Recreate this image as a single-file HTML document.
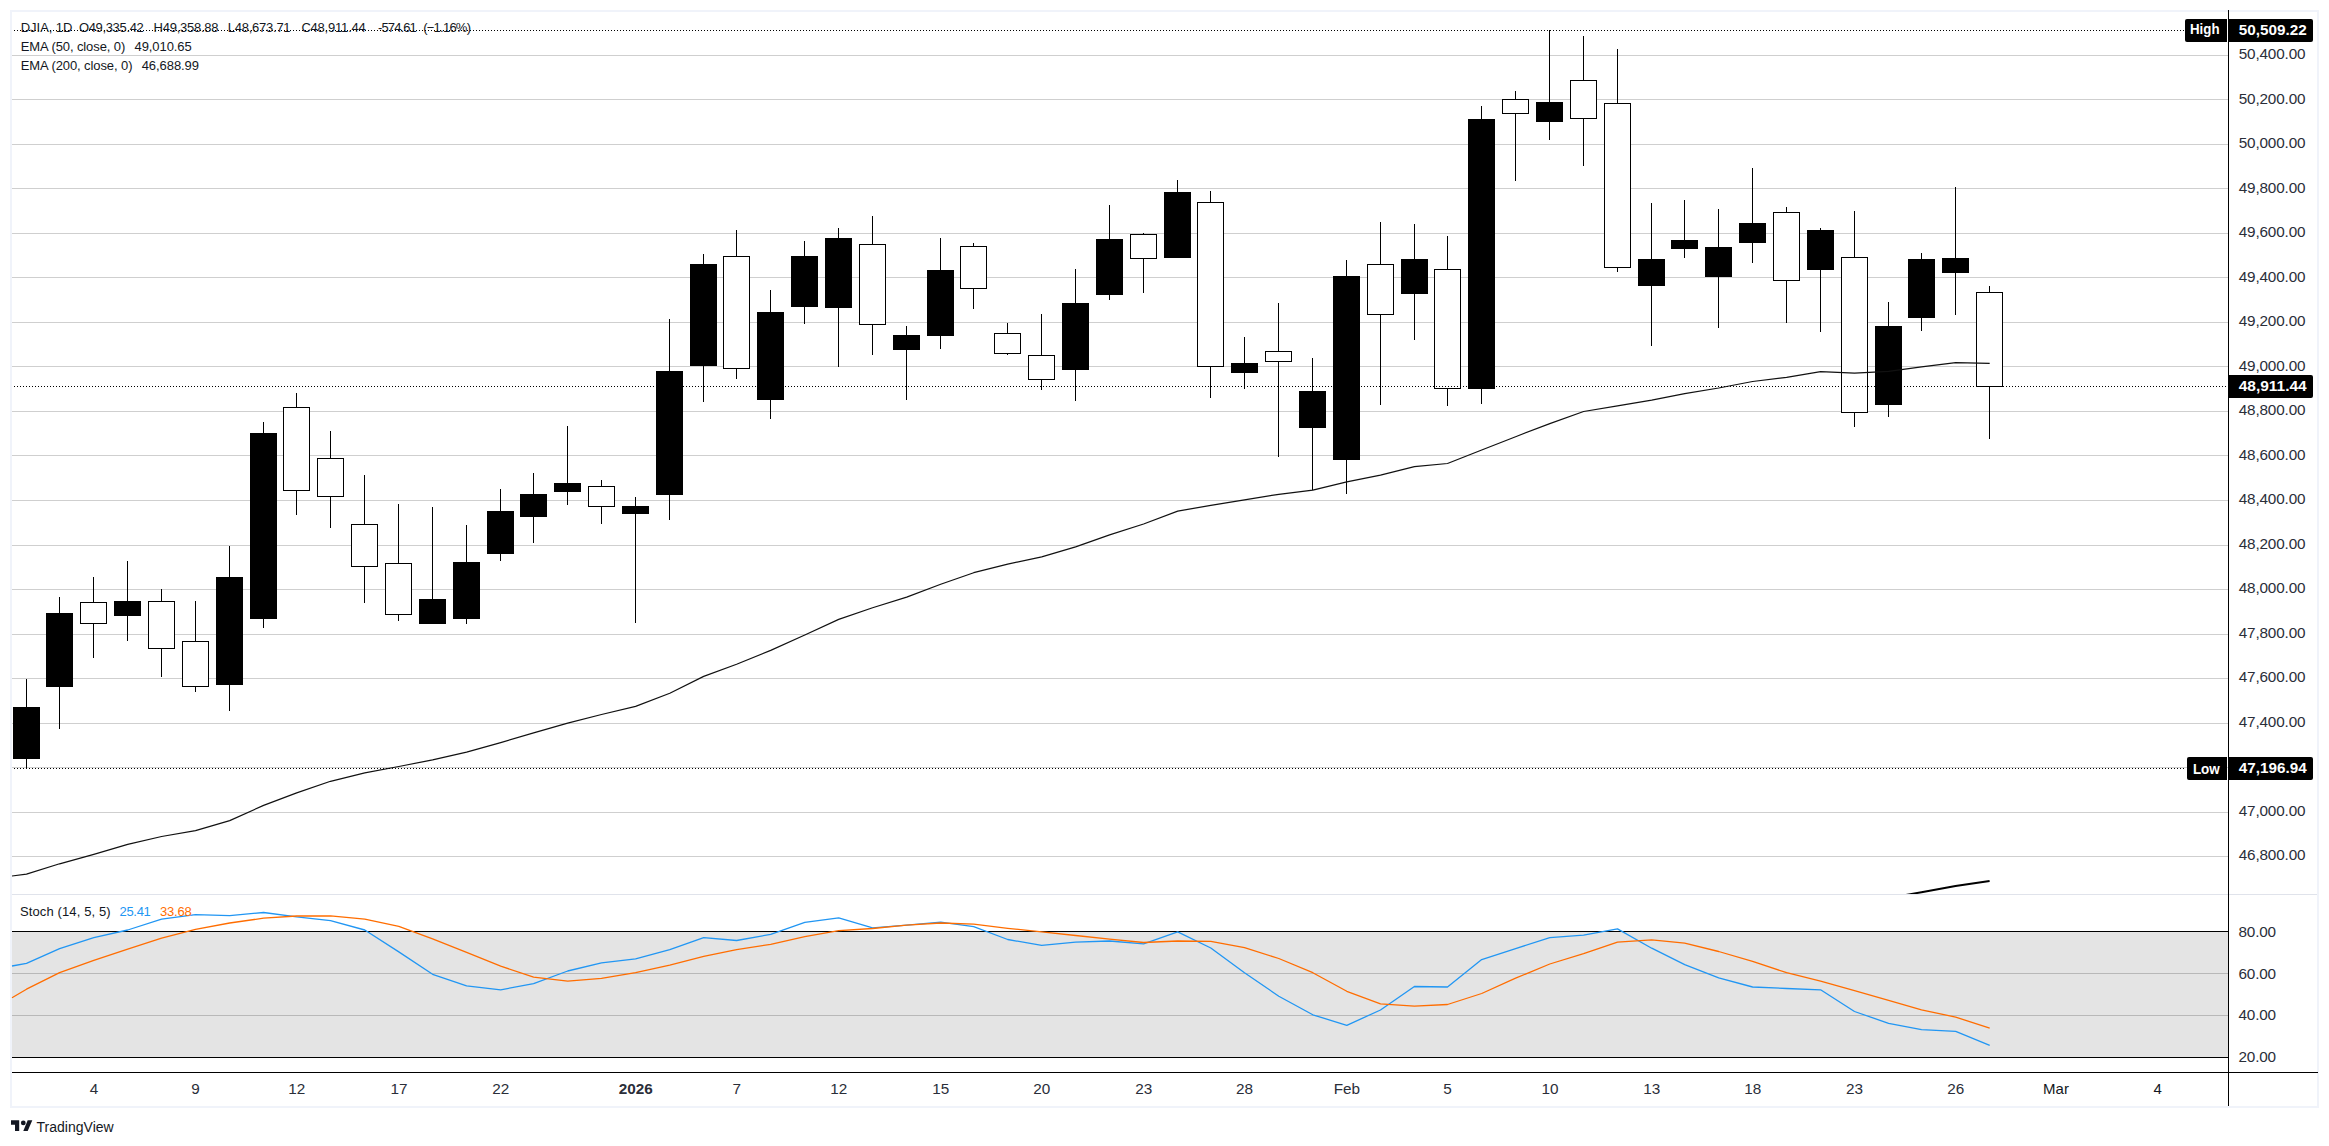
<!DOCTYPE html><html><head><meta charset="utf-8"><style>html,body{margin:0;padding:0;background:#fff;}svg{display:block}text{font-family:"Liberation Sans",sans-serif}</style></head><body>
<svg width="2329" height="1146" viewBox="0 0 2329 1146">
<rect x="0" y="0" width="2329" height="1146" fill="#ffffff"/>
<g shape-rendering="crispEdges">
<rect x="10" y="10" width="2309" height="2" fill="#f0f3fa"/>
<rect x="10" y="1106" width="2309" height="2" fill="#f0f3fa"/>
<rect x="10" y="10" width="2" height="1098" fill="#f0f3fa"/>
<rect x="2317" y="10" width="2" height="1098" fill="#f0f3fa"/>
<rect x="12" y="55" width="2216" height="1" fill="#cfcfcf"/>
<rect x="12" y="99" width="2216" height="1" fill="#cfcfcf"/>
<rect x="12" y="144" width="2216" height="1" fill="#cfcfcf"/>
<rect x="12" y="188" width="2216" height="1" fill="#cfcfcf"/>
<rect x="12" y="233" width="2216" height="1" fill="#cfcfcf"/>
<rect x="12" y="277" width="2216" height="1" fill="#cfcfcf"/>
<rect x="12" y="322" width="2216" height="1" fill="#cfcfcf"/>
<rect x="12" y="366" width="2216" height="1" fill="#cfcfcf"/>
<rect x="12" y="411" width="2216" height="1" fill="#cfcfcf"/>
<rect x="12" y="455" width="2216" height="1" fill="#cfcfcf"/>
<rect x="12" y="500" width="2216" height="1" fill="#cfcfcf"/>
<rect x="12" y="545" width="2216" height="1" fill="#cfcfcf"/>
<rect x="12" y="589" width="2216" height="1" fill="#cfcfcf"/>
<rect x="12" y="634" width="2216" height="1" fill="#cfcfcf"/>
<rect x="12" y="678" width="2216" height="1" fill="#cfcfcf"/>
<rect x="12" y="723" width="2216" height="1" fill="#cfcfcf"/>
<rect x="12" y="767" width="2216" height="1" fill="#cfcfcf"/>
<rect x="12" y="812" width="2216" height="1" fill="#cfcfcf"/>
<rect x="12" y="856" width="2216" height="1" fill="#cfcfcf"/>
<rect x="12" y="894" width="2305" height="1" fill="#e0e3eb"/>
<rect x="12" y="932" width="2216" height="125" fill="#e4e4e4"/>
<rect x="12" y="973" width="2216" height="1" fill="#b8b8b8"/>
<rect x="12" y="1015" width="2216" height="1" fill="#b8b8b8"/>
<rect x="12" y="931" width="2216" height="1" fill="#000"/>
<rect x="12" y="1057" width="2216" height="1" fill="#000"/>
<rect x="12" y="1072" width="2306" height="1" fill="#000"/>
<rect x="2228" y="10" width="1" height="1096" fill="#000"/>
</g>
<g shape-rendering="crispEdges">
<rect x="26" y="679" width="1" height="89" fill="#000"/>
<rect x="13" y="707" width="27" height="52" fill="#000"/>
<rect x="59" y="597" width="1" height="132" fill="#000"/>
<rect x="46" y="613" width="27" height="74" fill="#000"/>
<rect x="93" y="577" width="1" height="81" fill="#000"/>
<rect x="80" y="602" width="27" height="22" fill="#000"/>
<rect x="81" y="603" width="25" height="20" fill="#fff"/>
<rect x="127" y="561" width="1" height="80" fill="#000"/>
<rect x="114" y="601" width="27" height="15" fill="#000"/>
<rect x="161" y="589" width="1" height="88" fill="#000"/>
<rect x="148" y="601" width="27" height="48" fill="#000"/>
<rect x="149" y="602" width="25" height="46" fill="#fff"/>
<rect x="195" y="601" width="1" height="91" fill="#000"/>
<rect x="182" y="641" width="27" height="46" fill="#000"/>
<rect x="183" y="642" width="25" height="44" fill="#fff"/>
<rect x="229" y="546" width="1" height="165" fill="#000"/>
<rect x="216" y="577" width="27" height="108" fill="#000"/>
<rect x="263" y="422" width="1" height="206" fill="#000"/>
<rect x="250" y="433" width="27" height="186" fill="#000"/>
<rect x="296" y="393" width="1" height="122" fill="#000"/>
<rect x="283" y="407" width="27" height="84" fill="#000"/>
<rect x="284" y="408" width="25" height="82" fill="#fff"/>
<rect x="330" y="431" width="1" height="97" fill="#000"/>
<rect x="317" y="458" width="27" height="39" fill="#000"/>
<rect x="318" y="459" width="25" height="37" fill="#fff"/>
<rect x="364" y="475" width="1" height="128" fill="#000"/>
<rect x="351" y="524" width="27" height="43" fill="#000"/>
<rect x="352" y="525" width="25" height="41" fill="#fff"/>
<rect x="398" y="504" width="1" height="117" fill="#000"/>
<rect x="385" y="563" width="27" height="52" fill="#000"/>
<rect x="386" y="564" width="25" height="50" fill="#fff"/>
<rect x="432" y="507" width="1" height="117" fill="#000"/>
<rect x="419" y="599" width="27" height="25" fill="#000"/>
<rect x="466" y="525" width="1" height="99" fill="#000"/>
<rect x="453" y="562" width="27" height="57" fill="#000"/>
<rect x="500" y="489" width="1" height="72" fill="#000"/>
<rect x="487" y="511" width="27" height="43" fill="#000"/>
<rect x="533" y="473" width="1" height="70" fill="#000"/>
<rect x="520" y="494" width="27" height="23" fill="#000"/>
<rect x="567" y="426" width="1" height="79" fill="#000"/>
<rect x="554" y="483" width="27" height="9" fill="#000"/>
<rect x="601" y="480" width="1" height="44" fill="#000"/>
<rect x="588" y="486" width="27" height="21" fill="#000"/>
<rect x="589" y="487" width="25" height="19" fill="#fff"/>
<rect x="635" y="497" width="1" height="126" fill="#000"/>
<rect x="622" y="506" width="27" height="8" fill="#000"/>
<rect x="669" y="319" width="1" height="201" fill="#000"/>
<rect x="656" y="371" width="27" height="124" fill="#000"/>
<rect x="703" y="254" width="1" height="148" fill="#000"/>
<rect x="690" y="264" width="27" height="102" fill="#000"/>
<rect x="736" y="230" width="1" height="149" fill="#000"/>
<rect x="723" y="256" width="27" height="113" fill="#000"/>
<rect x="724" y="257" width="25" height="111" fill="#fff"/>
<rect x="770" y="290" width="1" height="129" fill="#000"/>
<rect x="757" y="312" width="27" height="88" fill="#000"/>
<rect x="804" y="241" width="1" height="83" fill="#000"/>
<rect x="791" y="256" width="27" height="51" fill="#000"/>
<rect x="838" y="228" width="1" height="139" fill="#000"/>
<rect x="825" y="238" width="27" height="70" fill="#000"/>
<rect x="872" y="216" width="1" height="139" fill="#000"/>
<rect x="859" y="244" width="27" height="81" fill="#000"/>
<rect x="860" y="245" width="25" height="79" fill="#fff"/>
<rect x="906" y="326" width="1" height="74" fill="#000"/>
<rect x="893" y="335" width="27" height="15" fill="#000"/>
<rect x="940" y="238" width="1" height="111" fill="#000"/>
<rect x="927" y="270" width="27" height="66" fill="#000"/>
<rect x="973" y="243" width="1" height="66" fill="#000"/>
<rect x="960" y="246" width="27" height="43" fill="#000"/>
<rect x="961" y="247" width="25" height="41" fill="#fff"/>
<rect x="1007" y="323" width="1" height="32" fill="#000"/>
<rect x="994" y="333" width="27" height="21" fill="#000"/>
<rect x="995" y="334" width="25" height="19" fill="#fff"/>
<rect x="1041" y="314" width="1" height="76" fill="#000"/>
<rect x="1028" y="355" width="27" height="25" fill="#000"/>
<rect x="1029" y="356" width="25" height="23" fill="#fff"/>
<rect x="1075" y="269" width="1" height="132" fill="#000"/>
<rect x="1062" y="303" width="27" height="67" fill="#000"/>
<rect x="1109" y="205" width="1" height="95" fill="#000"/>
<rect x="1096" y="239" width="27" height="56" fill="#000"/>
<rect x="1143" y="233" width="1" height="60" fill="#000"/>
<rect x="1130" y="234" width="27" height="25" fill="#000"/>
<rect x="1131" y="235" width="25" height="23" fill="#fff"/>
<rect x="1177" y="180" width="1" height="78" fill="#000"/>
<rect x="1164" y="192" width="27" height="66" fill="#000"/>
<rect x="1210" y="191" width="1" height="207" fill="#000"/>
<rect x="1197" y="202" width="27" height="165" fill="#000"/>
<rect x="1198" y="203" width="25" height="163" fill="#fff"/>
<rect x="1244" y="337" width="1" height="52" fill="#000"/>
<rect x="1231" y="363" width="27" height="10" fill="#000"/>
<rect x="1278" y="303" width="1" height="154" fill="#000"/>
<rect x="1265" y="351" width="27" height="11" fill="#000"/>
<rect x="1266" y="352" width="25" height="9" fill="#fff"/>
<rect x="1312" y="358" width="1" height="132" fill="#000"/>
<rect x="1299" y="391" width="27" height="37" fill="#000"/>
<rect x="1346" y="260" width="1" height="234" fill="#000"/>
<rect x="1333" y="276" width="27" height="184" fill="#000"/>
<rect x="1380" y="222" width="1" height="183" fill="#000"/>
<rect x="1367" y="264" width="27" height="51" fill="#000"/>
<rect x="1368" y="265" width="25" height="49" fill="#fff"/>
<rect x="1414" y="224" width="1" height="116" fill="#000"/>
<rect x="1401" y="259" width="27" height="35" fill="#000"/>
<rect x="1447" y="236" width="1" height="170" fill="#000"/>
<rect x="1434" y="269" width="27" height="120" fill="#000"/>
<rect x="1435" y="270" width="25" height="118" fill="#fff"/>
<rect x="1481" y="106" width="1" height="298" fill="#000"/>
<rect x="1468" y="119" width="27" height="270" fill="#000"/>
<rect x="1515" y="91" width="1" height="90" fill="#000"/>
<rect x="1502" y="99" width="27" height="15" fill="#000"/>
<rect x="1503" y="100" width="25" height="13" fill="#fff"/>
<rect x="1549" y="30" width="1" height="110" fill="#000"/>
<rect x="1536" y="102" width="27" height="20" fill="#000"/>
<rect x="1583" y="36" width="1" height="130" fill="#000"/>
<rect x="1570" y="80" width="27" height="39" fill="#000"/>
<rect x="1571" y="81" width="25" height="37" fill="#fff"/>
<rect x="1617" y="49" width="1" height="223" fill="#000"/>
<rect x="1604" y="103" width="27" height="165" fill="#000"/>
<rect x="1605" y="104" width="25" height="163" fill="#fff"/>
<rect x="1651" y="203" width="1" height="143" fill="#000"/>
<rect x="1638" y="259" width="27" height="27" fill="#000"/>
<rect x="1684" y="200" width="1" height="58" fill="#000"/>
<rect x="1671" y="240" width="27" height="9" fill="#000"/>
<rect x="1718" y="209" width="1" height="119" fill="#000"/>
<rect x="1705" y="247" width="27" height="30" fill="#000"/>
<rect x="1752" y="168" width="1" height="95" fill="#000"/>
<rect x="1739" y="223" width="27" height="20" fill="#000"/>
<rect x="1786" y="207" width="1" height="116" fill="#000"/>
<rect x="1773" y="212" width="27" height="69" fill="#000"/>
<rect x="1774" y="213" width="25" height="67" fill="#fff"/>
<rect x="1820" y="228" width="1" height="104" fill="#000"/>
<rect x="1807" y="230" width="27" height="40" fill="#000"/>
<rect x="1854" y="211" width="1" height="216" fill="#000"/>
<rect x="1841" y="257" width="27" height="156" fill="#000"/>
<rect x="1842" y="258" width="25" height="154" fill="#fff"/>
<rect x="1888" y="302" width="1" height="115" fill="#000"/>
<rect x="1875" y="326" width="27" height="79" fill="#000"/>
<rect x="1921" y="253" width="1" height="78" fill="#000"/>
<rect x="1908" y="259" width="27" height="59" fill="#000"/>
<rect x="1955" y="187" width="1" height="128" fill="#000"/>
<rect x="1942" y="258" width="27" height="15" fill="#000"/>
<rect x="1989" y="286" width="1" height="153" fill="#000"/>
<rect x="1976" y="292" width="27" height="95" fill="#000"/>
<rect x="1977" y="293" width="25" height="93" fill="#fff"/>
</g>
<polyline fill="none" stroke="#111" stroke-width="1.2" stroke-linejoin="round" points="12.0,876.0 26.5,874.1 59.6,863.8 93.8,854.3 127.7,844.3 161.6,836.5 195.5,830.6 229.7,820.6 263.6,805.4 296.7,792.9 330.5,781.3 364.8,772.8 398.8,766.5 432.6,759.9 466.6,752.1 500.7,742.6 533.6,732.9 567.7,723.1 601.5,714.5 635.6,706.4 669.8,693.2 703.7,676.4 736.6,664.3 770.7,650.4 804.8,635.0 838.7,619.4 872.6,607.8 906.7,597.1 940.7,584.3 973.7,572.7 1007.7,564.1 1041.7,556.8 1075.6,546.9 1109.6,534.9 1143.6,524.0 1177.7,511.1 1210.8,505.4 1244.5,499.8 1278.8,494.3 1312.8,490.2 1346.8,481.8 1380.5,475.2 1414.4,466.7 1447.5,463.5 1481.7,450.0 1515.6,436.7 1549.8,423.6 1583.6,411.5 1617.5,405.8 1651.7,400.1 1684.7,393.7 1718.7,388.0 1752.6,381.5 1786.6,377.4 1820.6,371.6 1854.5,373.2 1888.6,371.3 1921.5,366.9 1955.7,362.6 1989.7,363.4"/>
<clipPath id="mp"><rect x="12" y="12" width="2216" height="882"/></clipPath>
<polyline clip-path="url(#mp)" fill="none" stroke="#000" stroke-width="2" points="1888,898.2 1921.5,892.2 1955.5,886.0 1989.6,880.9"/>
<line x1="14" y1="30.5" x2="2185" y2="30.5" stroke="#000" stroke-width="1" stroke-dasharray="1 2" shape-rendering="crispEdges"/>
<line x1="14" y1="768.5" x2="2186" y2="768.5" stroke="#000" stroke-width="1" stroke-dasharray="1 2" shape-rendering="crispEdges"/>
<line x1="14" y1="386.5" x2="2228" y2="386.5" stroke="#000" stroke-width="1" stroke-dasharray="1 2" shape-rendering="crispEdges"/>
<polyline fill="none" stroke="#2196f3" stroke-width="1.3" stroke-linejoin="round" points="12.0,966.0 26.5,963.3 59.6,948.6 93.8,937.7 127.7,930.0 161.6,919.1 195.5,914.7 229.7,915.6 263.6,912.5 296.7,916.9 330.5,920.6 364.8,930.0 398.8,951.9 432.6,974.3 466.6,985.9 500.7,989.8 533.6,983.7 567.7,971.0 601.5,962.9 635.6,958.9 669.8,949.7 703.7,937.7 736.6,940.5 770.7,934.4 804.8,922.4 838.7,917.8 872.6,927.8 906.7,925.2 940.7,922.2 973.7,926.7 1007.7,939.5 1041.7,945.4 1075.6,942.1 1109.6,941.0 1143.6,943.8 1177.7,931.8 1210.8,948.0 1244.5,972.7 1278.8,996.2 1312.8,1014.8 1346.8,1025.3 1380.5,1010.0 1414.4,986.5 1447.5,987.0 1481.7,959.6 1515.6,948.6 1549.8,937.7 1583.6,935.1 1617.5,928.9 1651.7,948.2 1684.7,964.6 1718.7,977.8 1752.6,987.0 1786.6,988.5 1820.6,989.8 1854.5,1011.5 1888.6,1023.3 1921.5,1029.7 1955.7,1031.4 1989.7,1045.3"/>
<polyline fill="none" stroke="#ff6d00" stroke-width="1.3" stroke-linejoin="round" points="12.0,997.8 26.5,989.2 59.6,972.7 93.8,960.3 127.7,949.1 161.6,938.1 195.5,929.4 229.7,923.0 263.6,918.2 296.7,916.0 330.5,915.8 364.8,919.1 398.8,926.3 432.6,938.8 466.6,952.4 500.7,966.2 533.6,977.1 567.7,981.1 601.5,978.4 635.6,972.7 669.8,965.1 703.7,956.3 736.6,949.7 770.7,944.3 804.8,936.6 838.7,930.7 872.6,928.5 906.7,925.2 940.7,923.0 973.7,924.1 1007.7,928.3 1041.7,931.8 1075.6,935.5 1109.6,939.2 1143.6,942.5 1177.7,941.0 1210.8,941.4 1244.5,947.6 1278.8,958.5 1312.8,972.7 1346.8,991.3 1380.5,1003.8 1414.4,1006.2 1447.5,1004.5 1481.7,993.5 1515.6,978.2 1549.8,964.0 1583.6,953.7 1617.5,942.1 1651.7,939.9 1684.7,943.2 1718.7,951.5 1752.6,961.3 1786.6,972.7 1820.6,981.1 1854.5,990.7 1888.6,1000.3 1921.5,1009.9 1955.7,1017.2 1989.7,1028.2"/>
<text x="2238.7" y="59.3" font-size="15.3" fill="#2a2e39" textLength="66.8" lengthAdjust="spacing">50,400.00</text>
<text x="2238.7" y="103.8" font-size="15.3" fill="#2a2e39" textLength="66.8" lengthAdjust="spacing">50,200.00</text>
<text x="2238.7" y="148.3" font-size="15.3" fill="#2a2e39" textLength="66.8" lengthAdjust="spacing">50,000.00</text>
<text x="2238.7" y="192.8" font-size="15.3" fill="#2a2e39" textLength="66.8" lengthAdjust="spacing">49,800.00</text>
<text x="2238.7" y="237.3" font-size="15.3" fill="#2a2e39" textLength="66.8" lengthAdjust="spacing">49,600.00</text>
<text x="2238.7" y="281.8" font-size="15.3" fill="#2a2e39" textLength="66.8" lengthAdjust="spacing">49,400.00</text>
<text x="2238.7" y="326.3" font-size="15.3" fill="#2a2e39" textLength="66.8" lengthAdjust="spacing">49,200.00</text>
<text x="2238.7" y="370.8" font-size="15.3" fill="#2a2e39" textLength="66.8" lengthAdjust="spacing">49,000.00</text>
<text x="2238.7" y="415.3" font-size="15.3" fill="#2a2e39" textLength="66.8" lengthAdjust="spacing">48,800.00</text>
<text x="2238.7" y="459.8" font-size="15.3" fill="#2a2e39" textLength="66.8" lengthAdjust="spacing">48,600.00</text>
<text x="2238.7" y="504.3" font-size="15.3" fill="#2a2e39" textLength="66.8" lengthAdjust="spacing">48,400.00</text>
<text x="2238.7" y="548.8" font-size="15.3" fill="#2a2e39" textLength="66.8" lengthAdjust="spacing">48,200.00</text>
<text x="2238.7" y="593.3" font-size="15.3" fill="#2a2e39" textLength="66.8" lengthAdjust="spacing">48,000.00</text>
<text x="2238.7" y="637.8" font-size="15.3" fill="#2a2e39" textLength="66.8" lengthAdjust="spacing">47,800.00</text>
<text x="2238.7" y="682.3" font-size="15.3" fill="#2a2e39" textLength="66.8" lengthAdjust="spacing">47,600.00</text>
<text x="2238.7" y="726.8" font-size="15.3" fill="#2a2e39" textLength="66.8" lengthAdjust="spacing">47,400.00</text>
<text x="2238.7" y="815.8" font-size="15.3" fill="#2a2e39" textLength="66.8" lengthAdjust="spacing">47,000.00</text>
<text x="2238.7" y="860.3" font-size="15.3" fill="#2a2e39" textLength="66.8" lengthAdjust="spacing">46,800.00</text>
<text x="2238.5" y="937.0" font-size="15.3" fill="#2a2e39" textLength="37.5" lengthAdjust="spacing">80.00</text>
<text x="2238.5" y="978.8" font-size="15.3" fill="#2a2e39" textLength="37.5" lengthAdjust="spacing">60.00</text>
<text x="2238.5" y="1020.3" font-size="15.3" fill="#2a2e39" textLength="37.5" lengthAdjust="spacing">40.00</text>
<text x="2238.5" y="1061.9" font-size="15.3" fill="#2a2e39" textLength="37.5" lengthAdjust="spacing">20.00</text>
<path d="M2187,19 H2227 V42 H2187 A2,2 0 0 1 2185,40 V21 A2,2 0 0 1 2187,19 Z" fill="#000"/>
<path d="M2229,19 H2311 A2,2 0 0 1 2313,21 V40 A2,2 0 0 1 2311,42 H2229 Z" fill="#000"/>
<text x="2190.0" y="33.9" font-size="14.5" font-weight="bold" fill="#fff" textLength="29.5" lengthAdjust="spacingAndGlyphs">High</text>
<text x="2238.7" y="34.9" font-size="15" font-weight="bold" fill="#fff" textLength="68" lengthAdjust="spacingAndGlyphs">50,509.22</text>
<path d="M2189,757 H2227 V780 H2189 A2,2 0 0 1 2187,778 V759 A2,2 0 0 1 2189,757 Z" fill="#000"/>
<path d="M2229,757 H2311 A2,2 0 0 1 2313,759 V778 A2,2 0 0 1 2311,780 H2229 Z" fill="#000"/>
<text x="2192.9" y="774.1" font-size="14.5" font-weight="bold" fill="#fff" textLength="26.9" lengthAdjust="spacingAndGlyphs">Low</text>
<text x="2238.7" y="772.9" font-size="15" font-weight="bold" fill="#fff" textLength="68" lengthAdjust="spacingAndGlyphs">47,196.94</text>
<path d="M2229,375 H2311 A2,2 0 0 1 2313,377 V396 A2,2 0 0 1 2311,398 H2229 Z" fill="#000"/>
<text x="2238.7" y="390.9" font-size="15" font-weight="bold" fill="#fff" textLength="68" lengthAdjust="spacingAndGlyphs">48,911.44</text>
<text x="93.9" y="1094" font-size="15.3" fill="#2a2e39" text-anchor="middle">4</text>
<text x="195.6" y="1094" font-size="15.3" fill="#2a2e39" text-anchor="middle">9</text>
<text x="296.8" y="1094" font-size="15.3" fill="#2a2e39" text-anchor="middle">12</text>
<text x="398.9" y="1094" font-size="15.3" fill="#2a2e39" text-anchor="middle">17</text>
<text x="500.8" y="1094" font-size="15.3" fill="#2a2e39" text-anchor="middle">22</text>
<text x="635.7" y="1094" font-size="15.3" font-weight="bold" fill="#2a2e39" text-anchor="middle">2026</text>
<text x="736.7" y="1094" font-size="15.3" fill="#2a2e39" text-anchor="middle">7</text>
<text x="838.8" y="1094" font-size="15.3" fill="#2a2e39" text-anchor="middle">12</text>
<text x="940.8" y="1094" font-size="15.3" fill="#2a2e39" text-anchor="middle">15</text>
<text x="1041.8" y="1094" font-size="15.3" fill="#2a2e39" text-anchor="middle">20</text>
<text x="1143.7" y="1094" font-size="15.3" fill="#2a2e39" text-anchor="middle">23</text>
<text x="1244.6" y="1094" font-size="15.3" fill="#2a2e39" text-anchor="middle">28</text>
<text x="1346.9" y="1094" font-size="15.3" fill="#2a2e39" text-anchor="middle">Feb</text>
<text x="1447.6" y="1094" font-size="15.3" fill="#2a2e39" text-anchor="middle">5</text>
<text x="1549.9" y="1094" font-size="15.3" fill="#2a2e39" text-anchor="middle">10</text>
<text x="1651.8" y="1094" font-size="15.3" fill="#2a2e39" text-anchor="middle">13</text>
<text x="1752.7" y="1094" font-size="15.3" fill="#2a2e39" text-anchor="middle">18</text>
<text x="1854.6" y="1094" font-size="15.3" fill="#2a2e39" text-anchor="middle">23</text>
<text x="1955.8" y="1094" font-size="15.3" fill="#2a2e39" text-anchor="middle">26</text>
<text x="2056" y="1094" font-size="15" fill="#131722" text-anchor="middle">Mar</text>
<text x="2157.7" y="1094" font-size="15" fill="#131722" text-anchor="middle">4</text>
<text x="20.7" y="31.5" font-size="13" fill="#131722">DJIA,</text>
<text x="55.7" y="31.5" font-size="13" fill="#131722">1D</text>
<text x="78.9" y="31.5" font-size="13" fill="#131722" textLength="64.9" lengthAdjust="spacing">O49,335.42</text>
<text x="153.6" y="31.5" font-size="13" fill="#131722" textLength="64.9" lengthAdjust="spacing">H49,358.88</text>
<text x="227.8" y="31.5" font-size="13" fill="#131722" textLength="62.8" lengthAdjust="spacing">L48,673.71</text>
<text x="301.4" y="31.5" font-size="13" fill="#131722" textLength="64.4" lengthAdjust="spacing">C48,911.44</text>
<text x="378" y="31.5" font-size="13" fill="#131722" textLength="38.8" lengthAdjust="spacing">-574.61</text>
<text x="423.2" y="31.5" font-size="13" fill="#131722" textLength="47.8" lengthAdjust="spacing">(−1.16%)</text>
<text x="20.7" y="50.9" font-size="13" fill="#131722" textLength="104.6" lengthAdjust="spacing">EMA (50, close, 0)</text>
<text x="134.5" y="50.9" font-size="13" fill="#131722" textLength="57.2" lengthAdjust="spacing">49,010.65</text>
<text x="20.7" y="69.6" font-size="13" fill="#131722" textLength="111.8" lengthAdjust="spacing">EMA (200, close, 0)</text>
<text x="141.7" y="69.6" font-size="13" fill="#131722" textLength="57.3" lengthAdjust="spacing">46,688.99</text>
<text x="19.9" y="916.2" font-size="13" fill="#131722" textLength="90.8" lengthAdjust="spacing">Stoch (14, 5, 5)</text>
<text x="119.5" y="916.2" font-size="13" fill="#2196f3" textLength="31.3" lengthAdjust="spacing">25.41</text>
<text x="160" y="916.2" font-size="13" fill="#ff6d00" textLength="31.7" lengthAdjust="spacing">33.68</text>
<g fill="#131722">
<path d="M11,1120.3 H19.2 V1131.1 H15 V1124.7 H11 Z"/>
<circle cx="23.3" cy="1122.9" r="2.4"/>
<path d="M27.7,1120.3 H32.3 L27.7,1131.1 H23.3 Z"/>
</g>
<text x="36.4" y="1131.6" font-size="14" fill="#131722" textLength="77.3" lengthAdjust="spacing">TradingView</text>
</svg></body></html>
